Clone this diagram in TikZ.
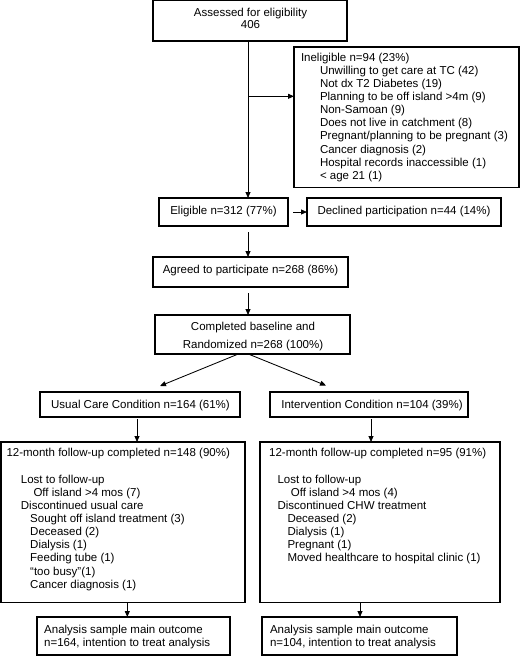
\documentclass[tikz,border=0pt]{standalone}
\usepackage{fontspec}
\setmainfont{Liberation Sans}
\usetikzlibrary{arrows.meta,calc}
\begin{document}
\begin{tikzpicture}[x=1pt,y=-1pt,
  box/.style={draw,line width=1.1pt,inner sep=0pt,outer sep=0pt},
  txt/.style={inner sep=0pt,outer sep=0pt,font=\fontsize{11.5}{13.15}\selectfont},
  lt/.style={txt,align=left,anchor=north west},
  ct/.style={txt,align=center,anchor=north},
  st/.style={txt,anchor=base},
  arr/.style={line width=0.85pt,-{Triangle[length=6pt,width=5pt]}}]
\useasboundingbox (0,0) rectangle (520,656);
% boxes
\node[box,minimum width=194pt,minimum height=40.4pt] (assess) at (250,20.8) {};
\node[box,minimum width=225pt,minimum height=140.3pt] (inel) at (406.5,117.15) {};
\node[box,minimum width=129pt,minimum height=28pt] (elig) at (223.5,212) {};
\node[box,minimum width=194pt,minimum height=28pt] (decl) at (404,212) {};
\node[box,minimum width=195pt,minimum height=30pt] (agree) at (250.5,272) {};
\node[box,minimum width=195pt,minimum height=39pt] (compl) at (252.5,334.5) {};
\node[box,minimum width=200pt,minimum height=25pt] (usual) at (140,404.5) {};
\node[box,minimum width=198pt,minimum height=25pt] (interv) at (369,404.5) {};
\node[box,minimum width=244pt,minimum height=160.3pt] (fu1) at (123,522.15) {};
\node[box,minimum width=240pt,minimum height=160.3pt] (fu2) at (380,522.15) {};
\node[box,minimum width=193pt,minimum height=38pt] (an1) at (133.5,636) {};
\node[box,minimum width=195pt,minimum height=38pt] (an2) at (359.5,636) {};
% texts
\node[ct,font=\fontsize{11.5}{12.6}\selectfont] (tassess) at (250.5,7.2) {\strut Assessed for eligibility\\406};
\node[lt] (tinel) at (301,51.8) {\strut Ineligible n=94 (23\%)\\
\hspace*{19pt}Unwilling to get care at TC (42)\\
\hspace*{19pt}Not dx T2 Diabetes (19)\\
\hspace*{19pt}Planning to be off island >4m (9)\\
\hspace*{19pt}Non-Samoan (9)\\
\hspace*{19pt}Does not live in catchment (8)\\
\hspace*{19pt}Pregnant/planning to be pregnant (3)\\
\hspace*{19pt}Cancer diagnosis (2)\\
\hspace*{19pt}Hospital records inaccessible (1)\\
\hspace*{19pt}< age 21 (1)};
\node[st] (telig) at (223.5,214) {Eligible n=312 (77\%)};
\node[st] (tdecl) at (404,214) {Declined participation n=44 (14\%)};
\node[st] (tagree) at (250.5,273) {Agreed to participate n=268 (86\%)};
\node[ct,font=\fontsize{11.5}{17.3}\selectfont] (tcompl) at (253,318.6) {\strut Completed baseline and\\Randomized n=268 (100\%)};
\node[st] (tusual) at (140.5,408) {Usual Care Condition n=164 (61\%)};
\node[st] (tinterv) at (372,408) {Intervention Condition n=104 (39\%)};
\node[lt] (tfu1) at (6.5,447.5) {\strut 12-month follow-up completed n=148 (90\%)\\[13.15pt]
\hspace*{14.4pt}Lost to follow-up\\
\hspace*{27pt}Off island >4 mos (7)\\
\hspace*{14.4pt}Discontinued usual care\\
\hspace*{23.7pt}Sought off island treatment (3)\\
\hspace*{23.7pt}Deceased (2)\\
\hspace*{23.7pt}Dialysis (1)\\
\hspace*{23.7pt}Feeding tube (1)\\
\hspace*{23.7pt}“too busy”(1)\\
\hspace*{23.7pt}Cancer diagnosis (1)};
\node[lt] (tfu2) at (269.2,447.5) {\strut 12-month follow-up completed n=95 (91\%)\\[13.15pt]
\hspace*{8.3pt}Lost to follow-up\\
\hspace*{21.7pt}Off island >4 mos (4)\\
\hspace*{8.3pt}Discontinued CHW treatment\\
\hspace*{18.3pt}Deceased (2)\\
\hspace*{18.3pt}Dialysis (1)\\
\hspace*{18.3pt}Pregnant (1)\\
\hspace*{18.3pt}Moved healthcare to hospital clinic (1)};
\node[lt,font=\fontsize{11.5}{13.3}\selectfont] (tan1) at (44.2,623.8) {\strut Analysis sample main outcome\\n=164, intention to treat analysis};
\node[lt,font=\fontsize{11.5}{13.3}\selectfont] (tan2) at (270,623.8) {\strut Analysis sample main outcome\\n=104, intention to treat analysis};
% connector guides
\coordinate (v1) at (248,0);
\coordinate (br) at (248,96.3);
\coordinate (d1) at (238.3,0);
\coordinate (d1e) at (160,386);
\coordinate (d2) at (248.3,0);
\coordinate (d2e) at (326,385.5);
\coordinate (c1) at (137,0);
\coordinate (c2) at (371,0);
\coordinate (e1) at (127.3,0);
\coordinate (e2) at (360,0);
% connectors
\draw[arr] (assess.south -| v1) -- (elig.north -| v1);
\draw[arr] (br) -- (br -| inel.west);
\draw[arr] ([xshift=5.3pt]elig.east) -- (decl.west);
\draw[arr] ($(elig.south -| v1)+(0,6)$) -- (agree.north -| v1);
\draw[arr] ($(agree.south -| v1)+(0,6)$) -- (compl.north -| v1);
\draw[arr] (compl.south -| d1) -- (d1e);
\draw[arr] (compl.south -| d2) -- (d2e);
\draw[arr] ($(usual.south -| c1)+(0,2)$) -- (fu1.north -| c1);
\draw[arr] ($(interv.south -| c2)+(0,2)$) -- (fu2.north -| c2);
\draw[arr] (fu1.south -| e1) -- (an1.north -| e1);
\draw[arr] (fu2.south -| e2) -- (an2.north -| e2);
\end{tikzpicture}
\end{document}
